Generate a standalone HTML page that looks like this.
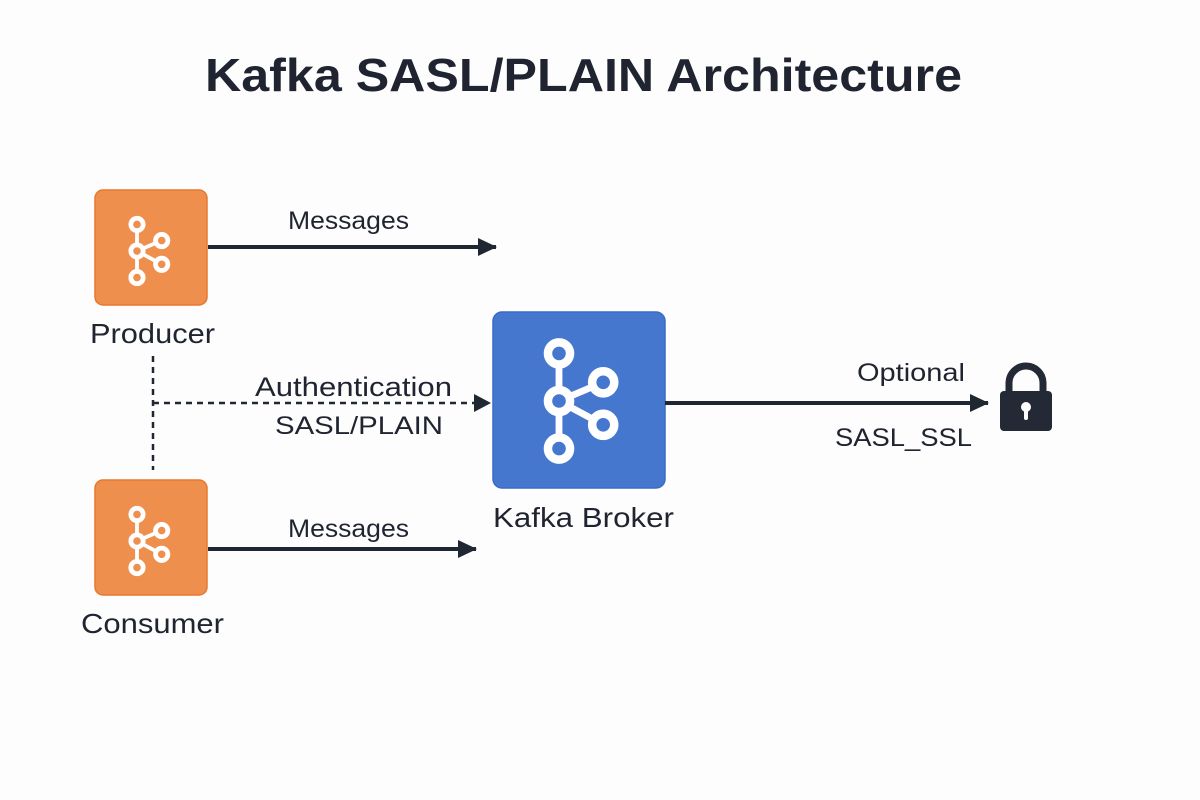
<!DOCTYPE html>
<html><head><meta charset="utf-8"><style>
html,body{margin:0;padding:0;background:#fdfdfd;}
svg{display:block;}
text{font-family:"Liberation Sans",sans-serif;fill:#1f2430;}
</style></head><body>
<svg width="1200" height="800" viewBox="0 0 1200 800" xmlns="http://www.w3.org/2000/svg">
<defs>
<marker id="ahb" markerWidth="20" markerHeight="20" refX="18" refY="10" orient="auto" markerUnits="userSpaceOnUse">
<path d="M0,1 L19,10 L0,19 Z" fill="#1f2733"/></marker>
<g id="ic">
<line x1="0" y1="-28" x2="0" y2="28" stroke="#fff" stroke-width="4"/>
<line x1="0" y1="0" x2="26" y2="-11" stroke="#fff" stroke-width="4"/>
<line x1="0" y1="0" x2="26" y2="14" stroke="#fff" stroke-width="4"/>
<g stroke="#fff" stroke-width="5">
<circle cx="0" cy="-28" r="6.5"/>
<circle cx="0" cy="0" r="6.5"/>
<circle cx="0" cy="28" r="6.5"/>
<circle cx="26" cy="-11" r="6.5"/>
<circle cx="26" cy="14" r="6.5"/>
</g></g>
</defs>
<text x="205" y="91" font-size="46" font-weight="bold" textLength="757" lengthAdjust="spacingAndGlyphs">Kafka SASL/PLAIN Architecture</text>

<rect x="95" y="190" width="112" height="115" rx="8" fill="#ee8f4e" stroke="#e8782e" stroke-width="1.5"/>
<use href="#ic" fill="#ee8f4e" transform="translate(137,251) scale(0.95)"/>
<text x="90" y="343" font-size="28" textLength="125" lengthAdjust="spacingAndGlyphs">Producer</text>

<rect x="95" y="480" width="112" height="115" rx="8" fill="#ee8f4e" stroke="#e8782e" stroke-width="1.5"/>
<use href="#ic" fill="#ee8f4e" transform="translate(137,541) scale(0.95)"/>
<text x="81" y="633" font-size="28" textLength="143" lengthAdjust="spacingAndGlyphs">Consumer</text>

<rect x="493" y="312" width="172" height="176" rx="9" fill="#4677cf" stroke="#3a6cc6" stroke-width="1.5"/>
<use href="#ic" fill="#4677cf" transform="translate(559,401) scale(1.7)"/>
<text x="493" y="527" font-size="28" textLength="181" lengthAdjust="spacingAndGlyphs">Kafka Broker</text>

<line x1="208" y1="247" x2="496" y2="247" stroke="#1f2733" stroke-width="4" marker-end="url(#ahb)"/>
<text x="288" y="229" font-size="25" textLength="121" lengthAdjust="spacingAndGlyphs">Messages</text>

<line x1="208" y1="549" x2="476" y2="549" stroke="#1f2733" stroke-width="4" marker-end="url(#ahb)"/>
<text x="288" y="537" font-size="25" textLength="121" lengthAdjust="spacingAndGlyphs">Messages</text>

<line x1="153" y1="356" x2="153" y2="470" stroke="#1f2733" stroke-width="2.5" stroke-dasharray="6,5"/>
<line x1="153" y1="403" x2="478" y2="403" stroke="#1f2733" stroke-width="2.5" stroke-dasharray="6,5"/>
<path d="M474,394 L491,403 L474,412 Z" fill="#1f2733"/>
<text x="255" y="396" font-size="27" textLength="197" lengthAdjust="spacingAndGlyphs">Authentication</text>
<text x="275" y="434" font-size="25" textLength="168" lengthAdjust="spacingAndGlyphs">SASL/PLAIN</text>

<line x1="665" y1="403" x2="988" y2="403" stroke="#1f2733" stroke-width="4" marker-end="url(#ahb)"/>
<text x="857" y="381" font-size="25" textLength="108" lengthAdjust="spacingAndGlyphs">Optional</text>
<text x="835" y="446" font-size="25" textLength="137" lengthAdjust="spacingAndGlyphs">SASL_SSL</text>

<path d="M1009,393 V383 A17,17 0 0 1 1043,383 V393" fill="none" stroke="#232a35" stroke-width="7"/>
<rect x="1000" y="391" width="52" height="40" rx="4" fill="#232a35"/>
<circle cx="1026" cy="407" r="5" fill="#fff"/>
<rect x="1024" y="408" width="4" height="12" rx="2" fill="#fff"/>
</svg>
</body></html>
